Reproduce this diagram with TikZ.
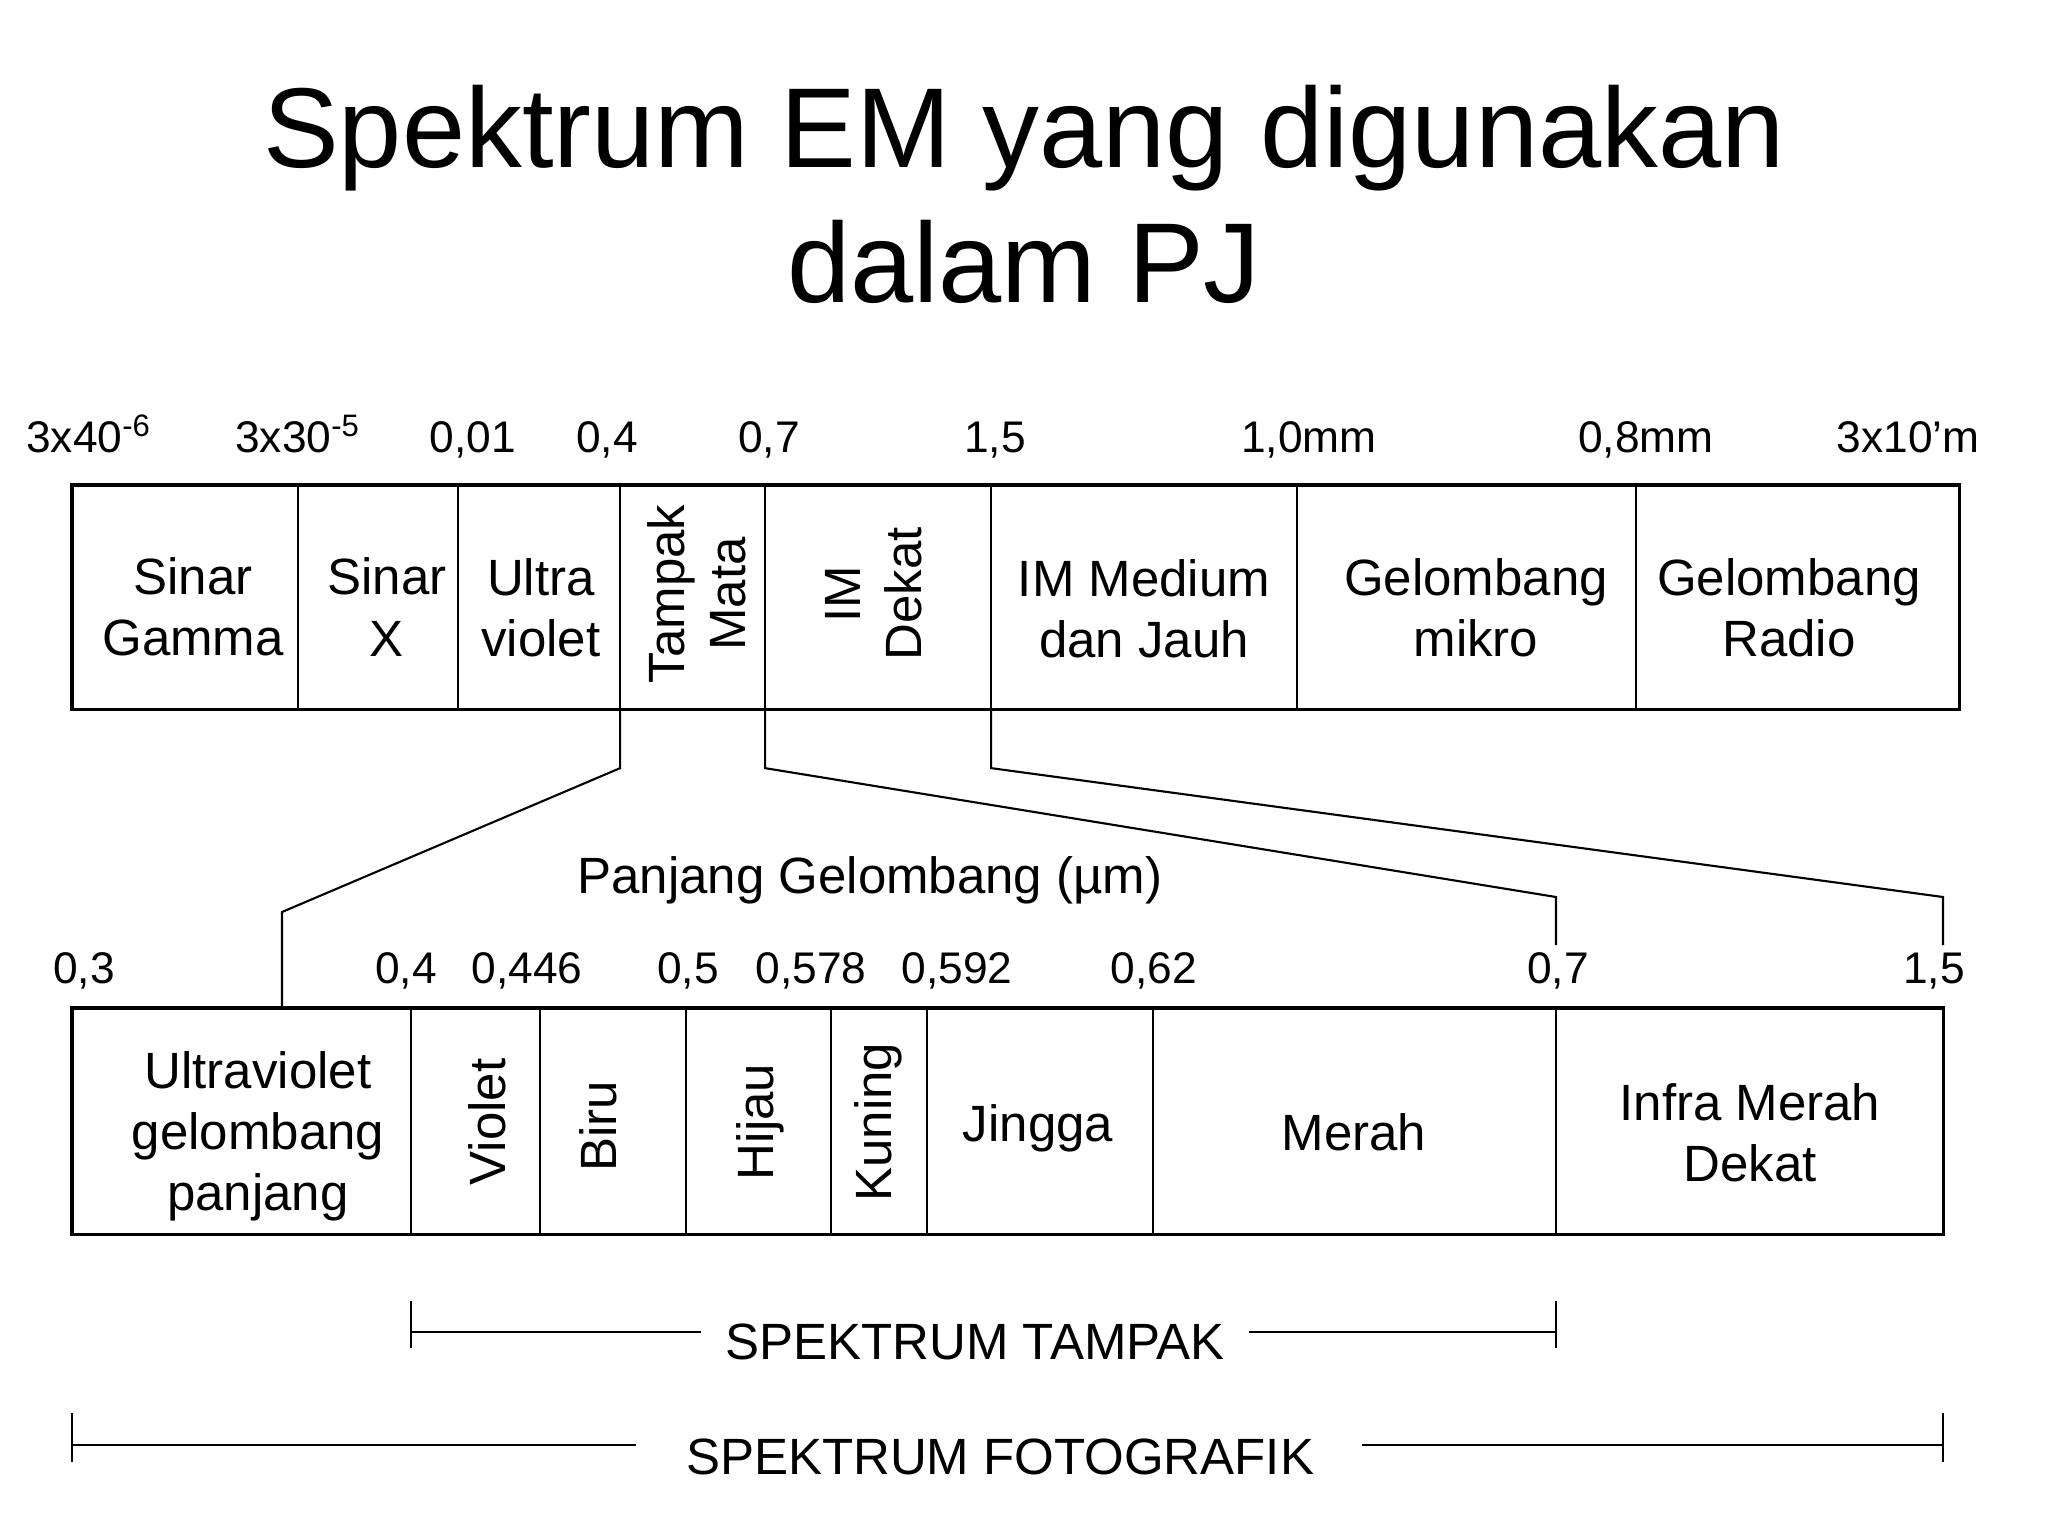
\documentclass[tikz,border=0pt]{standalone}
\usepackage{fontspec}
\setmainfont{Liberation Sans}
\begin{document}
\begin{tikzpicture}[x=0.01cm,y=-0.01cm,
  cell/.style={draw, line width=0.6pt, inner sep=0pt, outer sep=0pt, anchor=north west},
  tcell/.style={cell, minimum height=2.24cm},
  bcell/.style={cell, minimum height=2.26cm},
  lbl/.style={font=\fontsize{14.5}{17.4}\selectfont, align=center, inner sep=0pt},
  rot/.style={lbl, rotate=90},
  num/.style={font=\fontsize{12.6}{15}\selectfont, anchor=base, inner sep=0pt},
  conn/.style={line width=0.6pt},
  frame/.style={line width=0.9pt}
]
\useasboundingbox (0,0) rectangle (2048,1536);

% title
\node[font=\fontsize{32.3}{38.4}\selectfont, align=center, inner sep=0pt] (title) at (1024,194) {Spektrum EM yang digunakan\\dalam PJ};

% top scale labels
\node[num] (n1) at (89,452) {3x40\textsuperscript{-6}};
\node[num] (n2) at (298,452) {3x30\textsuperscript{-5}};
\node[num] (n3) at (473,452) {0,01};
\node[num] (n4) at (607,452) {0,4};
\node[num] (n5) at (769,452) {0,7};
\node[num] (n6) at (995,452) {1,5};
\node[num] (n7) at (1309,452) {1,0mm};
\node[num] (n8) at (1646,452) {0,8mm};
\node[num] (n9) at (1908,452) {3x10’m};

% top cells
\node[tcell, minimum width=2.26cm] (gamma) at (72,485) {};
\node[tcell, minimum width=1.60cm] (xray) at (298,485) {};
\node[tcell, minimum width=1.62cm] (uv) at (458,485) {};
\node[tcell, minimum width=1.45cm] (tampak) at (620,485) {};
\node[tcell, minimum width=2.26cm] (imdekat) at (765,485) {};
\node[tcell, minimum width=3.06cm] (immed) at (991,485) {};
\node[tcell, minimum width=3.39cm] (mikro) at (1297,485) {};
\node[tcell, minimum width=3.23cm] (radio) at (1636,485) {};
\draw[frame] (gamma.north west) rectangle (radio.south east);

\node[lbl] (tgamma) at (193,607) {Sinar\\Gamma};
\node[lbl] (txray) at (387,607) {Sinar\\X};
\node[lbl] (tuv) at (541,608) {Ultra\\violet};
\node[rot] (ttampak) at (697,594) {Tampak\\Mata};
\node[rot] (timdekat) at (874,594) {IM\\Dekat};
\node[lbl] (timmed) at (1144,609) {IM Medium\\dan Jauh};
\node[lbl] (tmikro) at (1476,608) {Gelombang\\mikro};
\node[lbl] (tradio) at (1789,608) {Gelombang\\Radio};

% caption of lower scale
\node[lbl, anchor=base] (pg) at (870,893) {Panjang Gelombang (µm)};

% bottom scale labels
\node[num] (m1) at (84,983) {0,3};
\node[num] (m2) at (406,983) {0,4};
\node[num] (m3) at (527,983) {0,446};
\node[num] (m4) at (688,983) {0,5};
\node[num] (m5) at (811,983) {0,578};
\node[num] (m6) at (957,983) {0,592};
\node[num] (m7) at (1154,983) {0,62};
\node[num] (m8) at (1558,983) {0,7};
\node[num] (m9) at (1934,983) {1,5};

% bottom cells
\node[bcell, minimum width=3.39cm] (uvl) at (72,1008) {};
\node[bcell, minimum width=1.29cm] (violet) at (411,1008) {};
\node[bcell, minimum width=1.46cm] (biru) at (540,1008) {};
\node[bcell, minimum width=1.45cm] (hijau) at (686,1008) {};
\node[bcell, minimum width=0.96cm] (kuning) at (831,1008) {};
\node[bcell, minimum width=2.26cm] (jingga) at (927,1008) {};
\node[bcell, minimum width=4.03cm] (merah) at (1153,1008) {};
\node[bcell, minimum width=3.87cm] (infra) at (1556,1008) {};
\draw[frame] (uvl.north west) rectangle (infra.south east);

\node[lbl] (tuvl) at (258,1136) {Ultraviolet\\gelombang\\panjang};
\node[rot] (tviolet) at (487,1122) {Violet};
\node[rot] (tbiru) at (598,1126) {Biru};
\node[rot] (thijau) at (760,1122) {Hijau};
\node[rot] (tkuning) at (878,1122) {Kuning};
\node[lbl] (tjingga) at (1038,1128) {Jingga};
\node[lbl] (tmerah) at (1354,1132) {Merah};
\node[lbl] (tinfra) at (1750,1133) {Infra Merah\\Dekat};

% connectors (zoom lines)
\coordinate (k1) at (282,912);
\coordinate (k2) at (1556,897);
\coordinate (k3) at (1943,897);
\coordinate (e2) at (1556,945);
\coordinate (e3) at (1943,945);
\draw[conn] (uv.south east) -- ++(0,59) -- (k1) -- (k1 |- uvl.north);
\draw[conn] (tampak.south east) -- ++(0,59) -- (k2) -- (e2);
\draw[conn] (imdekat.south east) -- ++(0,59) -- (k3) -- (e3);

% brackets
\node[lbl, anchor=base] (sptampak) at (975,1359) {SPEKTRUM TAMPAK};
\coordinate (ta) at (411,1332);
\coordinate (tb) at (1556,1332);
\draw[conn] (ta) ++(0,-31) -- ++(0,47);
\draw[conn] (tb) ++(0,-31) -- ++(0,47);
\draw[conn] (ta) -- (701,1332);
\draw[conn] (1249,1332) -- (tb);

\node[lbl, anchor=base] (spfoto) at (1000,1474) {SPEKTRUM FOTOGRAFIK};
\coordinate (fa) at (72,1445);
\coordinate (fb) at (1943,1445);
\draw[conn] (fa) ++(0,-32) -- ++(0,49);
\draw[conn] (fb) ++(0,-32) -- ++(0,49);
\draw[conn] (fa) -- (636,1445);
\draw[conn] (1362,1445) -- (fb);
\end{tikzpicture}
\end{document}
